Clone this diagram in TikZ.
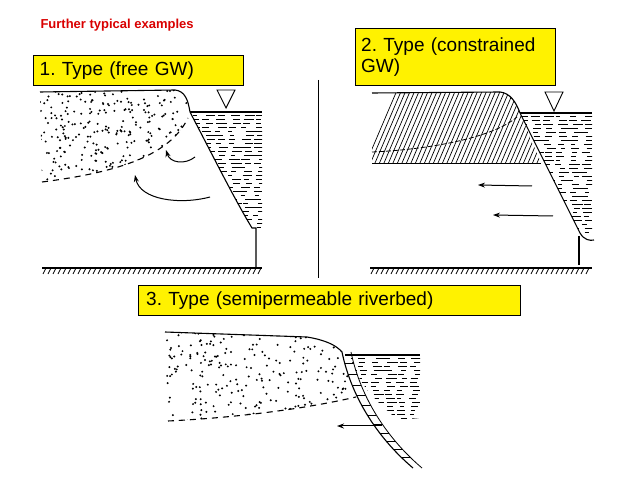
\documentclass[tikz,border=0pt]{standalone}
\usepackage{fontspec}
\setmainfont{Liberation Sans}
\usetikzlibrary{arrows.meta,calc}
\frenchspacing
\begin{document}
\begin{tikzpicture}[x=1pt,y=-1pt,
  lbl/.style={draw=black,fill=yellow,anchor=north west,inner sep=0pt,align=left,font=\fontsize{19}{21}\selectfont},
  ln/.style={line width=1.1pt},
  gw/.style={line width=1.1pt,dash pattern=on 6pt off 5pt},
  fl/.style={line width=1pt,-{Stealth[length=7pt,width=5pt]}},
  wd/.style={line width=0.7pt}]
\useasboundingbox (0,0) rectangle (638,478);
\pgfmathsetseed{7}
\node[anchor=west,text=red!85!black,font=\bfseries\fontsize{13}{15}\selectfont] (title) at (37,25) {Further typical examples};
\node[lbl,minimum width=210pt,minimum height=30pt,text width=205pt] (b1) at (33,55) {\hspace{4pt}1. Type (free GW)};
\node[lbl,minimum width=200pt,minimum height=57pt,text width=196pt] (b2) at (355,28) {\hspace{4pt}2. Type (constrained\\[0pt]\hspace{4pt}GW)};
\node[lbl,minimum width=382pt,minimum height=30pt,text width=378pt] (b3) at (138,285) {\hspace{6pt}3. Type (semipermeable riverbed)};
\draw[line width=0.8pt] (318,80) -- (318,278);

% ---------- Diagram 1
\begin{scope}
\clip (40,92) -- (175,90) .. controls (185,91) and (188,100) .. (190,112) -- (188,118) .. controls (170,155) and (120,172) .. (42,182) -- cycle;
\foreach \i in {1,...,300} \fill ({40+150*rnd},{90+92*rnd}) circle (1.1);
\end{scope}
\begin{scope}
\clip (190,112) -- (262,112) -- (262,230) -- (252,228) .. controls (235,200) and (215,160) .. (190,112);
\foreach \y in {115,119,...,232} \foreach \k in {0,...,5} \draw[wd] ({188+\k*13+6*rnd},\y) -- ++({4+7*rnd},0);
\end{scope}
\draw[ln] (40,92) -- (175,90) .. controls (185,91) and (188,100) .. (190,112) .. controls (215,160) and (235,200) .. (252,228) -- (256,228) -- (256,268);
\draw[ln] (190,112) -- (262,112);
\draw[gw] (42,182) .. controls (120,172) and (170,155) .. (188,118);
\draw[line width=0.9pt] (217,90) -- (235,90) -- (226,108) -- cycle;
\draw[fl] (195,157) .. controls (185,165) and (170,163) .. (166,150);
\draw[fl] (210,197) .. controls (180,205) and (140,200) .. (135,175);
\draw[ln] (42,268) -- (262,268);
\foreach \x in {46,51,...,262} \draw[line width=0.7pt] (\x,268) -- ++(-3,6);

% ---------- Diagram 2
\begin{scope}
\clip (372,93) -- (500,92) .. controls (510,93) and (516,102) .. (520,113) -- (541,163) -- (372,163) -- cycle;
\foreach \x in {366,370.5,...,560} \draw[line width=0.7pt] (\x,163) -- ++(32,-75);
\end{scope}
\draw[ln] (372,93) -- (500,92) .. controls (510,93) and (516,102) .. (520,113);
\draw[line width=0.9pt] (372,163) -- (541,163);
\draw[line width=0.8pt,dash pattern=on 5pt off 2pt] (372,152) .. controls (420,150) and (490,140) .. (517,117);
\begin{scope}
\clip (520,113) -- (592,113) -- (592,236) -- (580,233) -- cycle;
\foreach \y in {116,120,...,236} \foreach \k in {0,...,5} \draw[wd] ({516+\k*13+6*rnd},\y) -- ++({4+7*rnd},0);
\end{scope}
\draw[ln] (520,113) -- (580,233) .. controls (584,240) and (590,241) .. (594,240);
\draw[ln] (520,113) -- (592,113);
\draw[ln] (579,236) -- (579,265);
\draw[line width=0.9pt] (545,92) -- (563,92) -- (554,111) -- cycle;
\coordinate (a1s) at (532,186); \coordinate (a1e) at (478,185);
\coordinate (a2s) at (553,216); \coordinate (a2e) at (493,215);
\draw[fl] (a1s) -- (a1e);
\draw[fl] (a2s) -- (a2e);
\draw[ln] (370,268) -- (592,268);
\foreach \x in {374,379,...,592} \draw[line width=0.7pt] (\x,268) -- ++(-3,6);

% ---------- Diagram 3
\begin{scope}
\clip (165,332) -- (307,337) .. controls (325,340) and (336,345) .. (342,352) .. controls (345,365) and (350,380) .. (356,398) .. controls (300,410) and (230,418) .. (168,421) -- cycle;
\foreach \i in {1,...,260} \fill ({165+185*rnd},{332+90*rnd}) circle (1.1);
\end{scope}
\begin{scope}
\clip (350,355) -- (420,355) -- (420,418) -- (398,420) .. controls (375,400) and (358,385) .. (350,355);
\foreach \y in {358,362,...,420} \foreach \k in {0,...,5} \draw[wd] ({344+\k*13+6*rnd},\y) -- ++({4+7*rnd},0);
\end{scope}
\draw[ln] (165,332) -- (307,337) .. controls (325,340) and (336,345) .. (342,352) .. controls (352,400) and (380,440) .. (413,468);
\draw[line width=0.8pt] (351,352) .. controls (361,400) and (389,440) .. (422,468);
\foreach \t in {0.08,0.16,...,0.96} {
  \path (342,352) .. controls (352,400) and (380,440) .. (413,468) coordinate[pos=\t] (rp);
  \draw[line width=0.7pt] (rp) -- ++(9,0);
}
\draw[ln] (345,355) -- (420,355);
\draw[gw] (168,421) .. controls (230,418) and (300,410) .. (356,397);
\draw[fl] (382,426) -- (337,426);
\end{tikzpicture}
\end{document}
